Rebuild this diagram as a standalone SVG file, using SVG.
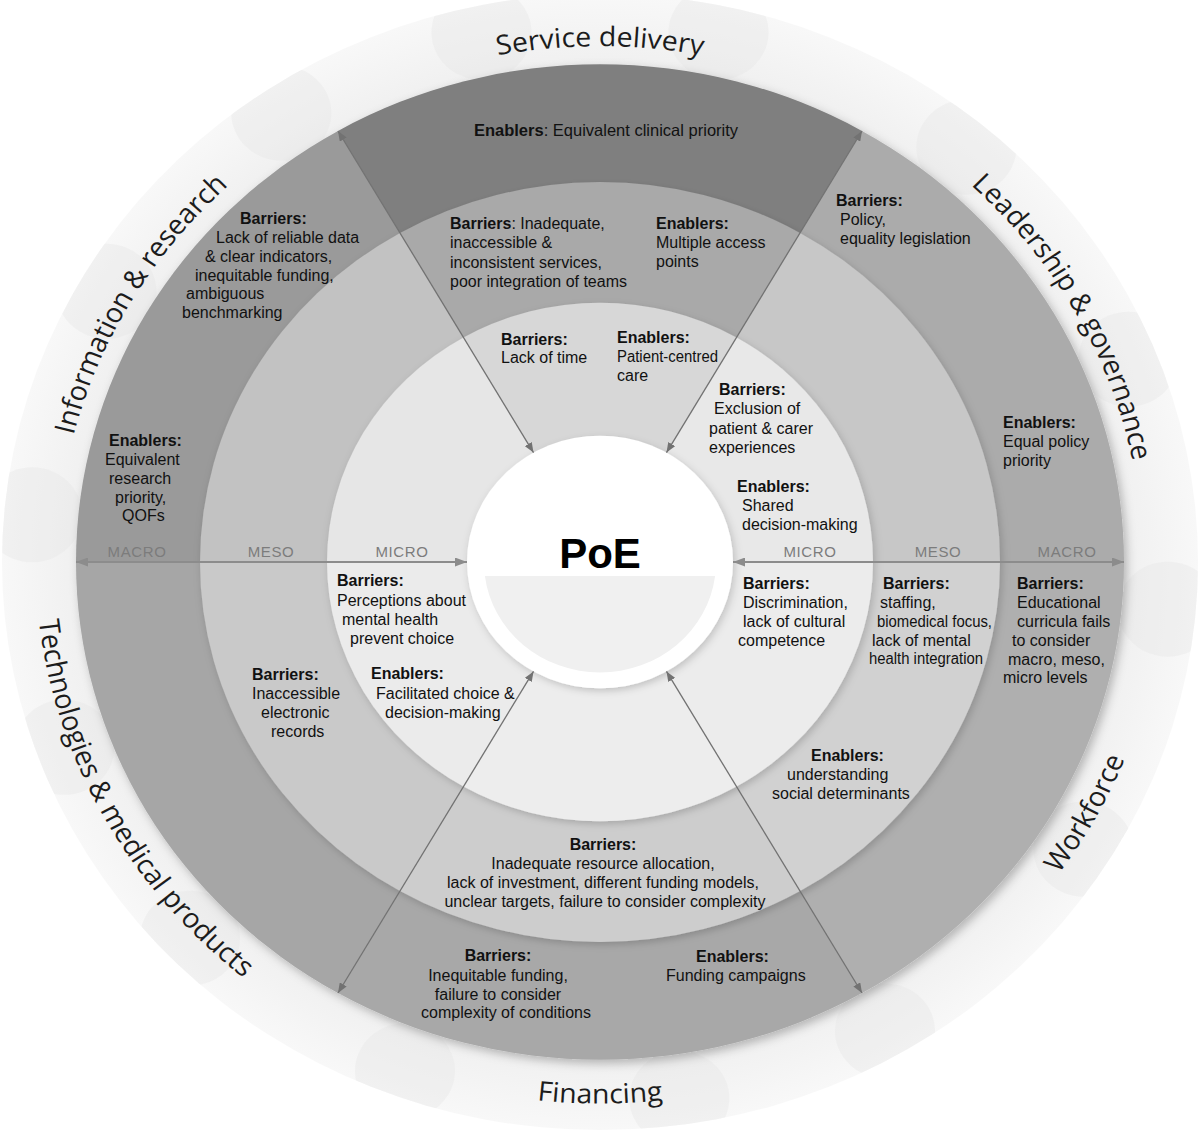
<svg xmlns="http://www.w3.org/2000/svg" width="1200" height="1133" viewBox="0 0 1200 1133">
<defs>
<style>
.t{font-family:"Liberation Sans",Arial,Helvetica,sans-serif;font-size:16px;fill:#111}
.b{font-weight:bold}
.m{text-anchor:middle}
.lvl{font-family:"Liberation Sans",Arial,sans-serif;font-size:15px;letter-spacing:0.6px;fill:#7c7c7c;text-anchor:middle}
.dim{font-family:"Open Sans","Liberation Sans",sans-serif;font-size:28.5px;fill:#1c1c1c;text-anchor:middle}
.conn{stroke:#727272;stroke-width:1.3;fill:none;marker-start:url(#ah);marker-end:url(#ah)}
.hconn{stroke:#8c8c8c;stroke-width:2;fill:none;marker-start:url(#ahh);marker-end:url(#ahh)}
.bub{fill:#e7e7e7;opacity:0.4}
</style>
<marker id="ah" viewBox="0 0 10 8" refX="10" refY="4" markerWidth="10" markerHeight="8" markerUnits="userSpaceOnUse" orient="auto-start-reverse"><path d="M0,0 L10,4 L0,8 Z" fill="#727272"/></marker>
<marker id="ahh" viewBox="0 0 12 9" refX="12" refY="4.5" markerWidth="12" markerHeight="9" markerUnits="userSpaceOnUse" orient="auto-start-reverse"><path d="M0,0 L12,4.5 L0,9 Z" fill="#8c8c8c"/></marker>
<radialGradient id="og" cx="0.5" cy="0.5" r="0.5"><stop offset="0.86" stop-color="#efefef"/><stop offset="1" stop-color="#f8f8f8"/></radialGradient>
<filter id="sh" x="-10%" y="-10%" width="120%" height="120%"><feDropShadow dx="3" dy="4" stdDeviation="5" flood-color="#000" flood-opacity="0.25"/></filter>
<filter id="sh2" x="-10%" y="-10%" width="120%" height="120%"><feDropShadow dx="2" dy="3" stdDeviation="4" flood-color="#000" flood-opacity="0.18"/></filter>
<clipPath id="disc"><circle cx="0" cy="0" r="598"/></clipPath>
<path id="pSD" d="M-543,0 A543,543 0 0 1 543,0"/>
<path id="pLG" d="M-271.5,-470.3 A543,543 0 0 1 271.5,470.3"/>
<path id="pIR" d="M-271.5,470.3 A543,543 0 0 1 271.5,-470.3"/>
<path id="pFI" d="M-570,0 A570,570 0 0 0 570,0"/>
<path id="pWF" d="M-285,493.6 A570,570 0 0 0 285,-493.6"/>
<path id="pTM" d="M-285,-493.6 A570,570 0 0 0 285,493.6"/>
</defs>
<rect width="1200" height="1133" fill="#ffffff"/>
<g transform="translate(600,562) scale(1,0.95)">
  <g id="outer-ring">
    <circle cx="0" cy="0" r="598" fill="url(#og)"/>
    <g clip-path="url(#disc)">
      <circle class="bub" cx="118.5" cy="-557.5" r="50"/>
      <circle class="bub" cx="366.4" cy="-436.6" r="50"/>
      <circle class="bub" cx="528.5" cy="-213.5" r="50"/>
      <circle class="bub" cx="567.8" cy="49.7" r="50"/>
      <circle class="bub" cx="483.4" cy="302.1" r="50"/>
      <circle class="bub" cx="285" cy="493.6" r="50"/>
      <circle class="bub" cx="79.3" cy="564.5" r="50"/>
      <circle class="bub" cx="-195" cy="535.6" r="50"/>
      <circle class="bub" cx="-410" cy="396" r="50"/>
      <circle class="bub" cx="-535.6" cy="195" r="50"/>
      <circle class="bub" cx="-567.8" cy="-49.7" r="50"/>
      <circle class="bub" cx="-493.6" cy="-285" r="50"/>
      <circle class="bub" cx="-318.7" cy="-472.6" r="50"/>
      <circle class="bub" cx="-118.5" cy="-557.5" r="50"/>
    </g>
  </g>
  <g id="macro-ring" filter="url(#sh)">
    <path d="M0,0 L-262,-453.8 A524,524 0 0 1 262,-453.8 Z" fill="#7f7f7f"/>
    <path d="M0,0 L262,-453.8 A524,524 0 0 1 524,0 Z" fill="#ababab"/>
    <path d="M0,0 L524,0 A524,524 0 0 1 262,453.8 Z" fill="#afafaf"/>
    <path d="M0,0 L262,453.8 A524,524 0 0 1 -262,453.8 Z" fill="#a8a8a8"/>
    <path d="M0,0 L-262,453.8 A524,524 0 0 1 -524,0 Z" fill="#a6a6a6"/>
    <path d="M0,0 L-524,0 A524,524 0 0 1 -262,-453.8 Z" fill="#9a9a9a"/>
  </g>
  <g id="meso-ring" filter="url(#sh2)">
    <path d="M0,0 L-200,-346.4 A400,400 0 0 1 200,-346.4 Z" fill="#a9a9a9"/>
    <path d="M0,0 L200,-346.4 A400,400 0 0 1 400,0 Z" fill="#c7c7c7"/>
    <path d="M0,0 L400,0 A400,400 0 0 1 200,346.4 Z" fill="#d1d1d1"/>
    <path d="M0,0 L200,346.4 A400,400 0 0 1 -200,346.4 Z" fill="#cdcdcd"/>
    <path d="M0,0 L-200,346.4 A400,400 0 0 1 -400,0 Z" fill="#c9c9c9"/>
    <path d="M0,0 L-400,0 A400,400 0 0 1 -200,-346.4 Z" fill="#c2c2c2"/>
  </g>
  <g id="micro-ring" filter="url(#sh2)">
    <path d="M0,0 L-136.5,-236.4 A273,273 0 0 1 136.5,-236.4 Z" fill="#d7d7d7"/>
    <path d="M0,0 L136.5,-236.4 A273,273 0 0 1 273,0 Z" fill="#e8e8e8"/>
    <path d="M0,0 L273,0 A273,273 0 0 1 136.5,236.4 Z" fill="#ececec"/>
    <path d="M0,0 L136.5,236.4 A273,273 0 0 1 -136.5,236.4 Z" fill="#ededed"/>
    <path d="M0,0 L-136.5,236.4 A273,273 0 0 1 -273,0 Z" fill="#ebebeb"/>
    <path d="M0,0 L-273,0 A273,273 0 0 1 -136.5,-236.4 Z" fill="#e6e6e6"/>
  </g>
  <g id="poe">
    <circle cx="0" cy="0" r="133" fill="#ffffff" filter="url(#sh2)"/>
    <path d="M-115.1,14.7 A116,116 0 0 0 115.1,14.7 Z" fill="#f0f0f0"/>
  </g>
  <g id="dimension-labels">
    <text class="dim"><textPath href="#pSD" startOffset="50%">Service delivery</textPath></text>
    <text class="dim"><textPath href="#pLG" startOffset="50.5%">Leadership &amp; governance</textPath></text>
    <text class="dim"><textPath href="#pIR" startOffset="50.3%">Information &amp; research</textPath></text>
    <text class="dim"><textPath href="#pWF" startOffset="50.8%">Workforce</textPath></text>
    <text class="dim"><textPath href="#pFI" startOffset="50%">Financing</textPath></text>
    <text class="dim"><textPath href="#pTM" startOffset="49.2%">Technologies &amp; medical products</textPath></text>
  </g>
</g>
<text class="t b" x="600" y="568" style="font-size:42px;text-anchor:middle;fill:#000">PoE</text>

<g id="connectors">
  <line class="conn" x1="338" y1="131" x2="533.5" y2="452.6"/>
  <line class="conn" x1="862" y1="131" x2="666.5" y2="452.6"/>
  <line class="conn" x1="338" y1="993" x2="533.5" y2="671.4"/>
  <line class="conn" x1="862" y1="993" x2="666.5" y2="671.4"/>
  <line class="hconn" x1="76" y1="562" x2="467" y2="562"/>
  <line class="hconn" x1="733" y1="562" x2="1124" y2="562"/>
</g>

<g id="level-labels">
  <text class="lvl" x="137" y="557">MACRO</text>
  <text class="lvl" x="271" y="557">MESO</text>
  <text class="lvl" x="402" y="557">MICRO</text>
  <text class="lvl" x="810" y="557">MICRO</text>
  <text class="lvl" x="938" y="557">MESO</text>
  <text class="lvl" x="1067" y="557">MACRO</text>
</g>

<g id="sd-macro-enablers">
  <text class="t m" x="606" y="136" style="font-size:16.5px"><tspan class="b">Enablers</tspan>: Equivalent clinical priority</text>
</g>
<g id="sd-meso-barriers">
  <text class="t" x="450" y="229"><tspan class="b">Barriers</tspan>: Inadequate,</text>
  <text class="t" x="450" y="248">inaccessible &amp;</text>
  <text class="t" x="450" y="268">inconsistent services,</text>
  <text class="t" x="450" y="287">poor integration of teams</text>
</g>
<g id="sd-meso-enablers">
  <text class="t b" x="656" y="229">Enablers:</text>
  <text class="t" x="656" y="248">Multiple access</text>
  <text class="t" x="656" y="267">points</text>
</g>
<g id="sd-micro-barriers">
  <text class="t b" x="501" y="345">Barriers:</text>
  <text class="t" x="501" y="363">Lack of time</text>
</g>
<g id="sd-micro-enablers">
  <text class="t b" x="617" y="343">Enablers:</text>
  <text class="t" x="617" y="362" textLength="101" lengthAdjust="spacingAndGlyphs">Patient-centred</text>
  <text class="t" x="617" y="381">care</text>
</g>
<g id="ir-macro-barriers">
  <text class="t b" x="240" y="223.5">Barriers:</text>
  <text class="t" x="216" y="242.5">Lack of reliable data</text>
  <text class="t" x="205" y="261.5">&amp; clear indicators,</text>
  <text class="t" x="195" y="280.5">inequitable funding,</text>
  <text class="t" x="186" y="298.5">ambiguous</text>
  <text class="t" x="182" y="317.5">benchmarking</text>
</g>
<g id="ir-macro-enablers">
  <text class="t b" x="109" y="445.5">Enablers:</text>
  <text class="t" x="105" y="464.5">Equivalent</text>
  <text class="t" x="109" y="483.5">research</text>
  <text class="t" x="115" y="502.5">priority,</text>
  <text class="t" x="122" y="520.5">QOFs</text>
</g>
<g id="lg-macro-barriers">
  <text class="t b" x="836" y="205.5">Barriers:</text>
  <text class="t" x="840" y="225">Policy,</text>
  <text class="t" x="840" y="243.5">equality legislation</text>
</g>
<g id="lg-macro-enablers">
  <text class="t b" x="1003" y="427.5">Enablers:</text>
  <text class="t" x="1003" y="446.5">Equal policy</text>
  <text class="t" x="1003" y="465.5">priority</text>
</g>
<g id="lg-micro-barriers">
  <text class="t b" x="719" y="395">Barriers:</text>
  <text class="t" x="714" y="414">Exclusion of</text>
  <text class="t" x="709" y="433.5">patient &amp; carer</text>
  <text class="t" x="709" y="452.5">experiences</text>
</g>
<g id="lg-micro-enablers">
  <text class="t b" x="737" y="492">Enablers:</text>
  <text class="t" x="742" y="511">Shared</text>
  <text class="t" x="742" y="529.5">decision-making</text>
</g>
<g id="wf-micro-barriers">
  <text class="t b" x="743" y="589">Barriers:</text>
  <text class="t" x="743" y="608">Discrimination,</text>
  <text class="t" x="743" y="627">lack of cultural</text>
  <text class="t" x="738" y="646">competence</text>
</g>
<g id="wf-meso-barriers">
  <text class="t b" x="883" y="589">Barriers:</text>
  <text class="t" x="880" y="608">staffing,</text>
  <text class="t" x="877" y="627" textLength="115" lengthAdjust="spacingAndGlyphs">biomedical focus,</text>
  <text class="t" x="872" y="646">lack of mental</text>
  <text class="t" x="869" y="664" textLength="114" lengthAdjust="spacingAndGlyphs">health integration</text>
</g>
<g id="wf-macro-barriers">
  <text class="t b" x="1017" y="589">Barriers:</text>
  <text class="t" x="1017" y="608">Educational</text>
  <text class="t" x="1017" y="627">curricula fails</text>
  <text class="t" x="1012" y="646">to consider</text>
  <text class="t" x="1008" y="665">macro, meso,</text>
  <text class="t" x="1003" y="683">micro levels</text>
</g>
<g id="wf-meso-enablers">
  <text class="t b" x="811" y="761">Enablers:</text>
  <text class="t" x="787" y="780">understanding</text>
  <text class="t" x="772" y="799">social determinants</text>
</g>
<g id="tm-micro-barriers">
  <text class="t b" x="337" y="586">Barriers:</text>
  <text class="t" x="337" y="605.5">Perceptions about</text>
  <text class="t" x="342" y="624.5">mental health</text>
  <text class="t" x="350" y="643.5">prevent choice</text>
</g>
<g id="tm-meso-barriers">
  <text class="t b" x="252" y="680">Barriers:</text>
  <text class="t" x="252" y="699">Inaccessible</text>
  <text class="t" x="261" y="718">electronic</text>
  <text class="t" x="271" y="737">records</text>
</g>
<g id="tm-micro-enablers">
  <text class="t b" x="371" y="679">Enablers:</text>
  <text class="t" x="376" y="698.5">Facilitated choice &amp;</text>
  <text class="t" x="385" y="717.5">decision-making</text>
</g>
<g id="fi-meso-barriers">
  <text class="t b m" x="603" y="850">Barriers:</text>
  <text class="t m" x="603" y="869">Inadequate resource allocation,</text>
  <text class="t m" x="603" y="888">lack of investment, different funding models,</text>
  <text class="t m" x="605" y="907">unclear targets, failure to consider complexity</text>
</g>
<g id="fi-macro-barriers">
  <text class="t b m" x="498" y="961">Barriers:</text>
  <text class="t m" x="498" y="981">Inequitable funding,</text>
  <text class="t m" x="498" y="1000">failure to consider</text>
  <text class="t m" x="506" y="1018">complexity of conditions</text>
</g>
<g id="fi-macro-enablers">
  <text class="t b" x="696" y="962">Enablers:</text>
  <text class="t" x="666" y="981">Funding campaigns</text>
</g>
</svg>
